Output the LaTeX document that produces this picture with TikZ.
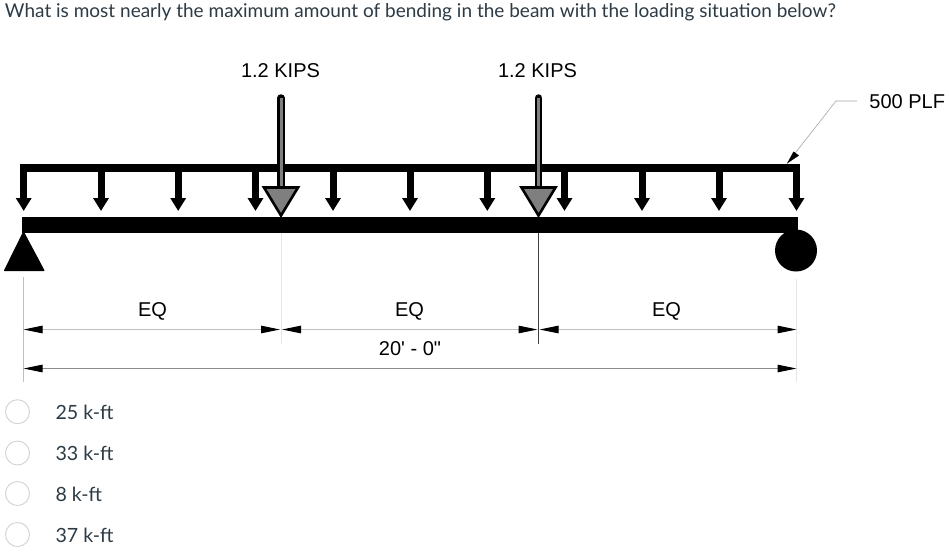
\documentclass[tikz,border=0pt]{standalone}
\usepackage{fontspec}
\setmainfont{Lato}
\newfontfamily\arialf{Liberation Sans}
\newfontfamily\latof{Lato}
\usetikzlibrary{arrows.meta}
\definecolor{canvastext}{HTML}{2D3B45}
\definecolor{radioedge}{HTML}{CDD3D7}
\definecolor{pointgray}{HTML}{7F7F7F}
\tikzset{
  x=1pt,y=-1pt,
  labeltext/.style={font=\arialf\fontsize{20}{22}\selectfont,text=black,anchor=base,inner sep=0pt,outer sep=0pt},
  questiontext/.style={font=\latof\fontsize{19}{22}\selectfont,text=canvastext,anchor=base west,inner sep=0pt,outer sep=0pt},
  answertext/.style={font=\latof\fontsize{19.6}{22}\selectfont,text=canvastext,anchor=base west,inner sep=0pt,outer sep=0pt},
  radio/.style={circle,draw=radioedge,line width=0.9pt,fill=white,minimum size=24pt,inner sep=0pt},
  loadarrow/.style={line width=7pt,-{Triangle[length=13pt,width=15pt]}},
  dimline/.style={line width=1pt,{Triangle[length=19pt,width=7.5pt,color=black,fill=black]}-{Triangle[length=19pt,width=7.5pt,color=black,fill=black]}},
  pointshaft/.style={line width=7.5pt,line cap=round},
  pointhead/.style={fill=pointgray,draw=black,line width=2.6pt,line join=miter},
}
\begin{document}
\begin{tikzpicture}
\useasboundingbox (0,0) rectangle (949,555);
\fill[white] (0,0) rectangle (949,555);

\node[questiontext] (question) at (5,17) {What is most nearly the maximum amount of bending in the beam with the loading situation below?};

% extension lines
\coordinate (e1t) at (23.5,277); \coordinate (e1b) at (23.5,382);
\coordinate (e2t) at (281,233);  \coordinate (e2b) at (281,344);
\coordinate (e3t) at (538.5,233);\coordinate (e3b) at (538.5,344);
\coordinate (e4t) at (796,279);  \coordinate (e4b) at (796,382);
\draw[line width=0.8pt,black!25] (e1t) -- (e1b);
\draw[line width=0.7pt,black!10] (e2t) -- (e2b);
\draw[line width=1pt,black!75] (e3t) -- (e3b);
\draw[line width=0.7pt,black!10] (e4t) -- (e4b);

% distributed load
\node[fill=black,inner sep=0pt,minimum width=780pt,minimum height=8pt,anchor=west] (loadbar) at (20,168) {};
\foreach \n/\xx in {a/23.7,b/101,c/178.2,d/255.5,e/333,f/410,g/487.3,h/564.5,i/642,j/719,k/796.5}{
  \coordinate (lt\n) at (\xx,165);
  \coordinate (lb\n) at (\xx,211);
  \draw[loadarrow] (lt\n) -- (lb\n);
}

% beam
\node[fill=black,inner sep=0pt,minimum width=776pt,minimum height=16pt,anchor=west] (beam) at (22,225) {};

% supports
\fill[black,line join=round,draw=black,line width=1pt] (23.5,232) -- (44,270.5) -- (4.5,270.5) -- cycle;
\node[circle,fill=black,minimum size=42pt,inner sep=0pt] (roller) at (796,250.5) {};

% point loads
\foreach \n/\xx in {p/281,q/538.5}{
  \coordinate (\n t) at (\xx,98);
  \coordinate (\n b) at (\xx,190);
  \draw[pointshaft,black] (\n t) -- (\n b);
  \draw[line width=3pt,pointgray] (\n t) -- (\n b);
  \draw[pointhead] (\xx-17,187.5) -- (\xx+17,187.5) -- (\xx,215.5) -- cycle;
}

% dimensions
\coordinate (d1a) at (23.5,329.5); \coordinate (d1b) at (280,329.5);
\coordinate (d2a) at (282,329.5);  \coordinate (d2b) at (537.5,329.5);
\coordinate (d3a) at (539.5,329.5);\coordinate (d3b) at (796.5,329.5);
\coordinate (d4a) at (23.5,368.5); \coordinate (d4b) at (796.5,368.5);
\draw[dimline,draw=black!25] (d1a) -- (d1b);
\draw[dimline,draw=black!25] (d2a) -- (d2b);
\draw[dimline,draw=black!25] (d3a) -- (d3b);
\draw[dimline,draw=black!45] (d4a) -- (d4b);

% labels
\node[labeltext] (kip1) at (280.5,77) {1.2 KIPS};
\node[labeltext] (kip2) at (537.5,77) {1.2 KIPS};
\node[labeltext,anchor=base east] (plf) at (945,108.5) {500 PLF};
\node[labeltext] (eq1) at (152.5,316) {EQ};
\node[labeltext] (eq2) at (409.5,316) {EQ};
\node[labeltext] (eq3) at (666.5,316) {EQ};
\node[labeltext] (total) at (410,355) {20' - 0"};

% leader
\coordinate (leadtip) at (787,163.5);
\coordinate (leadbend) at (836,101);
\coordinate (leadend) at (857,101);
\draw[line width=0.6pt,black!35] (leadend) -- (leadbend) -- (leadtip);
\fill[black] (leadtip) -- (793.5,151.5) -- (799,155.5) -- cycle;

% answers
\node[radio] (r1) at (17.5,411.7) {};
\node[radio] (r2) at (17.5,453) {};
\node[radio] (r3) at (17.5,493.5) {};
\node[radio] (r4) at (17.5,534.5) {};
\node[answertext] (a1) at (55.5,419) {25 k-ft};
\node[answertext] (a2) at (55.5,460) {33 k-ft};
\node[answertext] (a3) at (55.5,501) {8 k-ft};
\node[answertext] (a4) at (55.5,542) {37 k-ft};
\end{tikzpicture}
\end{document}
